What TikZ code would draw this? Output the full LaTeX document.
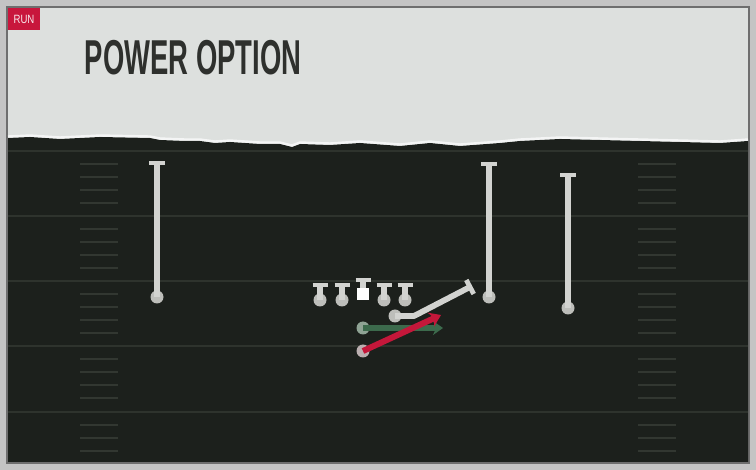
\documentclass[tikz,border=0pt]{standalone}
\usepackage{fontspec}
\setmainfont{Liberation Sans}
\usetikzlibrary{arrows.meta}
\definecolor{outerc}{HTML}{C4C4C4}
\definecolor{framec}{HTML}{6E6E6E}
\definecolor{paper}{HTML}{DDE0DE}
\definecolor{field}{HTML}{1C201C}
\definecolor{yardc}{HTML}{2E332D}
\definecolor{hashc}{HTML}{323731}
\definecolor{player}{HTML}{D2D3D0}
\definecolor{dotc}{HTML}{BDBEBA}
\definecolor{titlec}{HTML}{2E302D}
\definecolor{runred}{HTML}{C8163C}
\definecolor{routered}{HTML}{C4173A}
\definecolor{routegreen}{HTML}{3C6A4C}
\definecolor{greendot}{HTML}{8FA394}
\definecolor{reddot}{HTML}{BBAFB0}
\begin{document}
\begin{tikzpicture}[x=1pt,y=-1pt,
  stem/.style={draw=player, line width=5.8pt},
  tbar/.style={draw=player, line width=4.8pt},
  dot/.style={circle, fill=dotc, inner sep=0pt, minimum size=13pt},
  yard/.style={draw=yardc, line width=1.6pt},
  hash/.style={draw=hashc, line width=1.8pt},
  route/.style={line width=6pt},
  titlestyle/.style={font=\bfseries\fontsize{49}{49}\selectfont, text=titlec, xscale=0.56, inner sep=0pt},
  runstyle/.style={font=\fontsize{12}{12}\selectfont, text=white!90!runred, xscale=0.8, inner sep=0pt}]
\useasboundingbox (0,0) rectangle (756,470);
% frame
\fill[outerc] (0,0) rectangle (756,470);
\fill[framec] (6,6) rectangle (750,464);
\fill[paper] (8,8) rectangle (748,462);
% field with torn edge
\fill[field] (8,462) -- (8,138) -- (30,137) -- (60,139) -- (100,137) -- (150,138) -- (160,140)
  -- (185,141) -- (200,141) -- (215,143) -- (230,142) -- (260,144) -- (280,144) -- (292,147)
  -- (300,144) -- (330,145) -- (360,143) -- (400,146) -- (430,143) -- (460,146) -- (500,143)
  -- (520,141) -- (540,140) -- (560,139) -- (600,140) -- (640,141) -- (680,142) -- (720,143)
  -- (748,141) -- (748,462) -- cycle;
\draw[white, line width=2.4pt, opacity=0.7] (8,136.5) -- (30,135.5) -- (60,137.5) -- (100,135.5)
  -- (150,136.5) -- (160,138.5) -- (185,139.5) -- (200,139.5) -- (215,141.5) -- (230,140.5)
  -- (260,142.5) -- (280,142.5) -- (292,145.5) -- (300,142.5) -- (330,143.5) -- (360,141.5)
  -- (400,144.5) -- (430,141.5) -- (460,144.5) -- (500,141.5) -- (520,139.5) -- (540,138.5)
  -- (560,137.5) -- (600,138.5) -- (640,139.5) -- (680,140.5) -- (720,141.5) -- (748,139.5);
% yard lines
\foreach \yy in {151,216,281,346,412} {
  \draw[yard] (8,\yy) -- (748,\yy);
}
% hash marks
\foreach \yy in {164,177,190,203,229,242,255,268,294,307,320,333,359,372,385,398,425,438,451} {
  \draw[hash] (80,\yy) -- (118,\yy);
  \draw[hash] (638,\yy) -- (676,\yy);
}
% RUN label
\fill[runred] (8,8) rectangle (40,30);
\node[runstyle] (run) at (24,19.5) {RUN};
% title
\node[titlestyle] (title) at (193,58) {POWER OPTION};
% receivers
\node[dot] (wrl) at (157,297) {};
\coordinate (wrlt) at (157,163);
\draw[stem] (wrl.center) -- (wrlt);
\draw[tbar] (149,163) -- (165,163);
\node[dot] (wra) at (489,297) {};
\coordinate (wrat) at (489,164);
\draw[stem] (wra.center) -- (wrat);
\draw[tbar] (481,164) -- (497,164);
\node[dot] (wrb) at (568,308) {};
\coordinate (wrbt) at (568,175);
\draw[stem] (wrb.center) -- (wrbt);
\draw[tbar] (560,175) -- (576,175);
% offensive line
\foreach \xx/\nm in {320/lt,342/lg,384/rg,405/rt} {
  \node[dot] (\nm) at (\xx,300) {};
  \coordinate (\nm t) at (\xx,285);
  \draw[stem] (\nm.center) -- (\nm t);
  \draw[tbar] ([xshift=-7.5pt]\nm t) -- ([xshift=7.5pt]\nm t);
}
\node[fill=white, inner sep=0pt, minimum size=12pt] (c) at (363,294) {};
\coordinate (ct) at (363,280);
\draw[stem] (c.north) -- (ct);
\draw[tbar] (355.5,280) -- (370.5,280);
% white route (back)
\node[dot] (hb) at (395,316) {};
\coordinate (hbk) at (414,316);
\coordinate (hbe) at (470,287);
\draw[stem, line join=round] (hb.center) -- (hbk) -- (hbe);
\draw[tbar] (466.3,280) -- (473.7,294);
% green route
\node[dot, fill=greendot] (gs) at (363,328) {};
\coordinate (ge) at (443,328);
\draw[route, draw=routegreen, -{Stealth[length=10pt,width=14pt]}] (gs.center) -- (ge);
% red route
\node[dot, fill=reddot] (rs) at (363,351) {};
\coordinate (re) at (441,315);
\draw[route, draw=routered, -{Stealth[length=11pt,width=15pt]}] (rs.center) -- (re);
\end{tikzpicture}
\end{document}
